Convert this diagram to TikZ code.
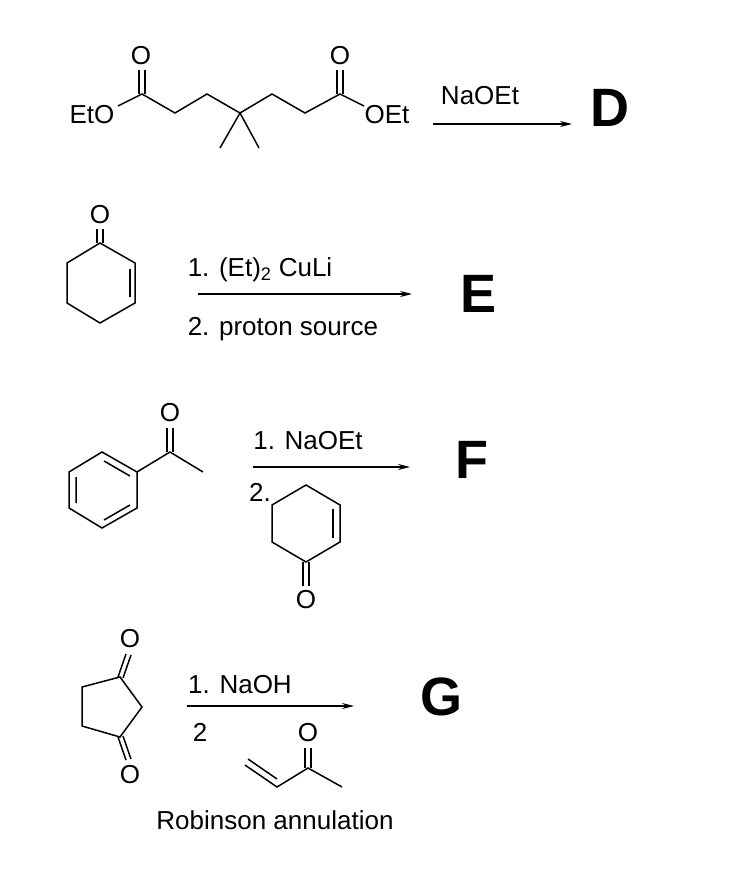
\documentclass[tikz,border=0pt]{standalone}
\usepackage{fontspec}
\setmainfont{Liberation Sans}
\usetikzlibrary{arrows.meta,calc}
\begin{document}
\begin{tikzpicture}[x=1pt,y=-1pt,line width=1.5pt,
  atom/.style={inner sep=1pt,font=\fontsize{26}{28}\selectfont},
  lbl/.style={inner sep=1pt,font=\fontsize{26}{28}\selectfont},
  prod/.style={inner sep=0pt,font=\fontsize{54}{56}\selectfont\bfseries},
  rxn/.style={-{Stealth[length=12pt,width=6pt]},line width=1.2pt}]
\useasboundingbox (0,0) rectangle (750,890);
% ---------- 1 ----------
\node[atom] (eto) at (92,115) {EtO};
\node[atom] (o1) at (141,56) {O};
\node[atom] (o2) at (340,56) {O};
\node[atom] (oet) at (387,115) {OEt};
\draw (118,106) -- (142,94) -- (175,113) -- (207,94) -- (240,113) -- (272,94) -- (305,113) -- (340,94) -- (364,106);
\draw (240,113) -- (220,148) (240,113) -- (259,148);
\draw (139,94) -- (139,70) (145,94) -- (145,70);
\draw (337,94) -- (337,70) (343,94) -- (343,70);
\node[lbl] (na1) at (480,96) {NaOEt};
\coordinate (a1s) at (433,124); \coordinate (a1e) at (572,124);
\draw[rxn] (a1s) -- (a1e);
\node[prod] (D) at (610,108) {D};
% ---------- 2 ----------
\node[atom] (o3) at (100,215) {O};
\draw (97,229) -- (97,243) (103,229) -- (103,243);
\draw (100,243) -- (135,263) -- (135,303) -- (100,323) -- (67,303) -- (67,263) -- cycle;
\draw (130,269) -- (130,297);
\node[lbl,anchor=west] (r21) at (186,270) {1. (Et)\textsubscript{2} CuLi};
\node[lbl,anchor=west] (r22) at (186,329) {2. proton source};
\coordinate (a2s) at (198,294); \coordinate (a2e) at (412,294);
\draw[rxn] (a2s) -- (a2e);
\node[prod] (E) at (479,294) {E};
% ---------- 3 ----------
\draw (102,452) -- (137,472) -- (137,508) -- (102,528) -- (69,508) -- (69,472) -- cycle;
\draw (104,461) -- (130,476) (130,505) -- (104,520) (76,477) -- (76,503);
\draw (137,472) -- (170,452) -- (203,472);
\node[atom] (o4) at (170,413) {O};
\draw (167,452) -- (167,428) (173,452) -- (173,428);
\node[lbl] (r31) at (308,441) {1. NaOEt};
\coordinate (a3s) at (253,467); \coordinate (a3e) at (410,467);
\draw[rxn] (a3s) -- (a3e);
\node[lbl] (r32) at (260,492) {2.};
\draw (306,485) -- (340,505) -- (340,542) -- (306,562) -- (272,542) -- (272,505) -- cycle;
\draw (333,509) -- (333,538);
\node[atom] (o5) at (306,600) {O};
\draw (303,562) -- (303,586) (309,562) -- (309,586);
\node[prod] (F) at (472,460) {F};
% ---------- 4 ----------
\draw (120,677) -- (142,707) -- (120,737) -- (82,726) -- (82,687) -- cycle;
\node[atom] (o6) at (130,639) {O};
\node[atom] (o7) at (130,775) {O};
\draw (118,677) -- (126,654) (123,678) -- (131,655);
\draw (118,737) -- (126,760) (123,736) -- (131,759);
\node[lbl] (r41) at (240,685) {1. NaOH};
\coordinate (a4s) at (187,706); \coordinate (a4e) at (354,706);
\draw[rxn] (a4s) -- (a4e);
\node[lbl] (r42) at (200,732) {2};
\draw (245,765) -- (277,787) -- (308,768) -- (342,787);
\draw (248,759) -- (277,779);
\node[atom] (o8) at (308,733) {O};
\draw (305,768) -- (305,748) (311,768) -- (311,748);
\node[lbl] (r43) at (275,820) {Robinson annulation};
\node[prod] (G) at (441,697) {G};
\end{tikzpicture}
\end{document}
